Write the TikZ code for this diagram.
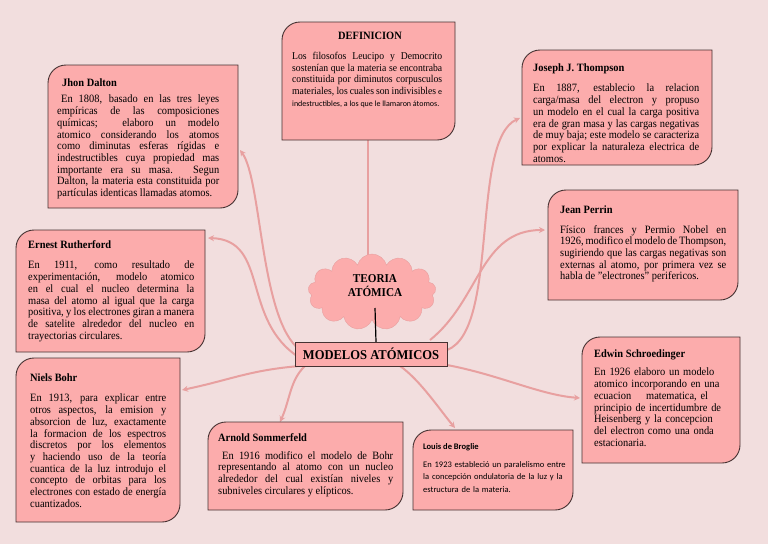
\documentclass[tikz,border=0pt]{standalone}
\usepackage{fontspec}
\setmainfont{Liberation Serif}[FakeStretch=0.93]
\newfontfamily\sansf{Carlito}
\usetikzlibrary{shapes.symbols,arrows.meta}
\definecolor{bg}{RGB}{242,222,222}
\definecolor{boxf}{RGB}{252,172,172}
\definecolor{boxd}{RGB}{70,50,50}
\definecolor{conn}{RGB}{232,160,160}
\newcommand{\cbox}[4]{\draw[boxd,fill=boxf,line width=0.9pt] (#1,#2+40) [rounded corners=18] -- (#1,#2) -- (#1+40,#2) [sharp corners] -- (#3,#2) -- (#3,#4-40) [rounded corners=18] -- (#3,#4) -- (#3-40,#4) [sharp corners] -- (#1,#4) -- cycle;}
\tikzset{
 txt/.style={anchor=north west,align=justify,font=\fontsize{11.2}{11.7}\selectfont,inner sep=0pt},
 ttl/.style={anchor=north west,font=\bfseries\fontsize{11.2}{11.7}\selectfont,inner sep=0pt},
 cn/.style={conn,line width=2pt,-{Stealth[length=6pt,width=6pt]}}
}
\begin{document}
\hyphenpenalty=10000
\begin{tikzpicture}[x=1pt,y=-1pt]
\fill[bg] (0,0) rectangle (768,544);
\useasboundingbox (0,0) rectangle (768,544);
\draw[conn,line width=2pt] (368,258) -- (368,140);
\draw[cn] (300,350) .. controls (260,320) and (262,180) .. (240,150);
\draw[cn] (300,358) .. controls (240,320) and (270,240) .. (208,238);
\draw[cn] (300,366) .. controls (250,370) and (230,380) .. (182,390);
\draw[cn] (305,366) .. controls (290,380) and (290,400) .. (280,422);
\draw[cn] (400,366) .. controls (420,380) and (440,410) .. (455,428);
\draw[cn] (447,365) .. controls (500,375) and (540,395) .. (580,398);
\draw[cn] (447,350) .. controls (500,330) and (470,140) .. (520,118);
\draw[cn] (430,340) .. controls (480,300) and (480,230) .. (545,230);
\cbox{48}{65}{238}{208}
\cbox{282}{22}{455}{140}
\cbox{522}{50}{712}{165}
\cbox{548}{190}{738}{300}
\cbox{16}{230}{205}{352}
\cbox{582}{337}{740}{463}
\cbox{16}{358}{180}{522}
\cbox{208}{422}{403}{510}
\cbox{413}{430}{573}{510}
\node[cloud,cloud puffs=13,aspect=1.8,fill=boxf,draw=conn,minimum width=128,minimum height=76,inner sep=0pt] (cloud) at (372,292) {};
\node[align=center,font=\bfseries\fontsize{12}{14}\selectfont] (ct) at (375,286) {TEORIA\\ATÓMICA};
\draw[black,line width=1.2pt] (375,308) -- (376,342);
\node[draw=boxd,fill=boxf,line width=0.9pt,minimum width=152,minimum height=24,font=\bfseries\fontsize{13.5}{15}\selectfont,inner sep=0pt] (mod) at (371,354) {MODELOS ATÓMICOS};
\node[ttl] (t1) at (62,79) {Jhon Dalton};
\node[txt,text width=162] (d1) at (57,95) {\hspace*{4pt}En 1808, basado en las tres leyes empíricas de las composiciones químicas; \hspace*{8pt}elaboro un modelo atomico considerando los atomos como diminutas esferas rígidas e indestructibles cuya propiedad mas importante era su masa. Segun Dalton, la materia esta constituida por partículas identicas llamadas atomos.};
\node[ttl] (t2) at (338,32) {DEFINICION};
\node[txt,text width=150,font=\fontsize{10.4}{11.7}\selectfont] (d2) at (292,52) {Los filosofos Leucipo y Democrito sostenían que la materia se encontraba constituida por diminutos corpusculos materiales, los cuales son indivisibles {\sansf\fontsize{8}{11.7}\selectfont e indestructibles, a los que le llamaron átomos.}};
\node[ttl] (t3) at (533,64) {Joseph J. Thompson};
\node[txt,text width=166] (d3) at (533,84) {En 1887, establecio la relacion carga/masa del electron y propuso un modelo en el cual la carga positiva era de gran masa y las cargas negativas de muy baja; este modelo se caracteriza por explicar la naturaleza electrica de atomos.};
\node[ttl] (t4) at (560,206) {Jean Perrin};
\node[txt,text width=166] (d4) at (560,225) {Físico frances y Permio Nobel en 1926, modifico el modelo de Thompson, sugiriendo que las cargas negativas son externas al atomo, por primera vez se habla de "electrones" perifericos.};
\node[ttl] (t5) at (28,240) {Ernest Rutherford};
\node[txt,text width=166] (d5) at (28,261) {En 1911, como resultado de experimentación, modelo atomico en el cual el nucleo determina la masa del atomo al igual que la carga positiva, y los electrones giran a manera de satelite alrededor del nucleo en trayectorias circulares.};
\node[ttl] (t6) at (594,350) {Edwin Schroedinger};
\node[txt,text width=130,align=left] (d6) at (594,368) {En 1926 elaboro un modelo atomico incorporando en una \ ecuacion \quad matematica, el principio de incertidumbre de Heisenberg y la concepcion del electron como una onda estacionaria.};
\node[ttl] (t7) at (30,374) {Niels Bohr};
\node[txt,text width=136] (d7) at (30,394) {En 1913, para explicar entre otros aspectos, la emision y absorcion de luz, exactamente la formacion de los espectros discretos por los elementos y haciendo uso de la teoría cuantica de la luz introdujo el concepto de orbitas para los electrones con estado de energía cuantizados.};
\node[ttl] (t8) at (218,433) {Arnold Sommerfeld};
\node[txt,text width=175] (d8) at (218,451) {\hspace*{4pt}En 1916 modifico el modelo de Bohr representando al atomo con un nucleo alrededor del cual existían niveles y subniveles circulares y elípticos.};
\node[ttl,font=\sansf\bfseries\fontsize{8.5}{9}\selectfont] (t9) at (423,443) {Louis de Broglie};
\node[txt,text width=145,font=\sansf\fontsize{8.5}{12.5}\selectfont,align=left] (d9) at (423,461) {En 1923 estableció un paralelismo entre la concepción ondulatoria de la luz y la estructura de la materia.};
\end{tikzpicture}
\end{document}
